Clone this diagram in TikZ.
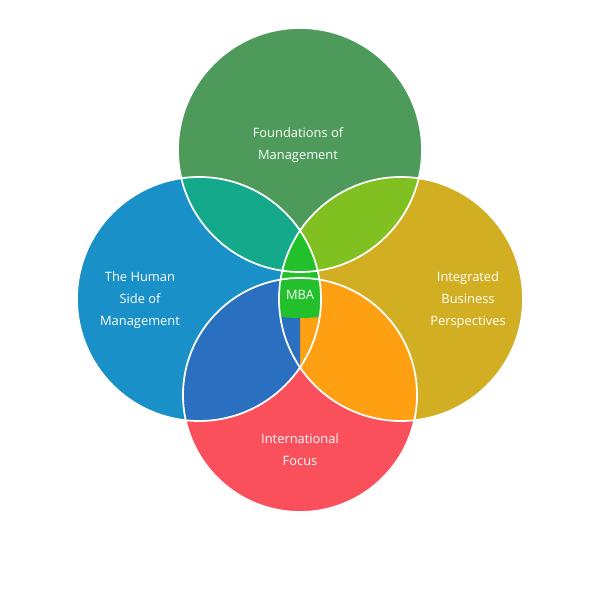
\documentclass[tikz,border=0pt]{standalone}
\usepackage{fontspec}
\setmainfont{Open Sans}
\begin{document}
\begin{tikzpicture}[x=0.3mm,y=0.3mm,
 lab/.style={text=white,font=\fontsize{11}{19}\selectfont,align=center}]
\definecolor{cT}{HTML}{4E9A5A}\definecolor{cL}{HTML}{1A90C8}
\definecolor{cR}{HTML}{D2AE22}\definecolor{cB}{HTML}{F9505C}
\definecolor{cTL}{HTML}{14A98A}\definecolor{cTR}{HTML}{80C020}
\definecolor{cLB}{HTML}{2B70C0}\definecolor{cRB}{HTML}{FFA012}
\definecolor{cM}{HTML}{22C02A}
\path[use as bounding box] (0,0) rectangle (600,600);
\def\T{(300,450) circle [radius=36.6mm]}
\def\L{(199,301) circle [radius=36.6mm]}
\def\R{(401,301) circle [radius=36.6mm]}
\def\B{(300,205) circle [radius=35.1mm]}
\fill[cB] \B; \fill[cT] \T; \fill[cL] \L; \fill[cR] \R;
\begin{scope}\clip \T; \fill[cTL] \L; \fill[cTR] \R; \end{scope}
\begin{scope}\clip \B; \fill[cRB] \R;
  \clip (0,0) rectangle (300,600); \fill[cLB] \L; \end{scope}
\begin{scope}\clip \L; \clip \R; \clip (300,450) circle [radius=50.4mm]; \fill[cM] \R; \end{scope}
\draw[white,line width=1.5pt] \T \L \R \B;
\node[lab] (t) at (298,455) {Foundations of\\Management};
\node[lab] (l) at (140,300) {The Human\\Side of\\Management};
\node[lab] (r) at (468,300) {Integrated\\Business\\Perspectives};
\node[lab] (b) at (300,150) {International\\Focus};
\node[lab] (m) at (300,305) {MBA};
\end{tikzpicture}
\end{document}
